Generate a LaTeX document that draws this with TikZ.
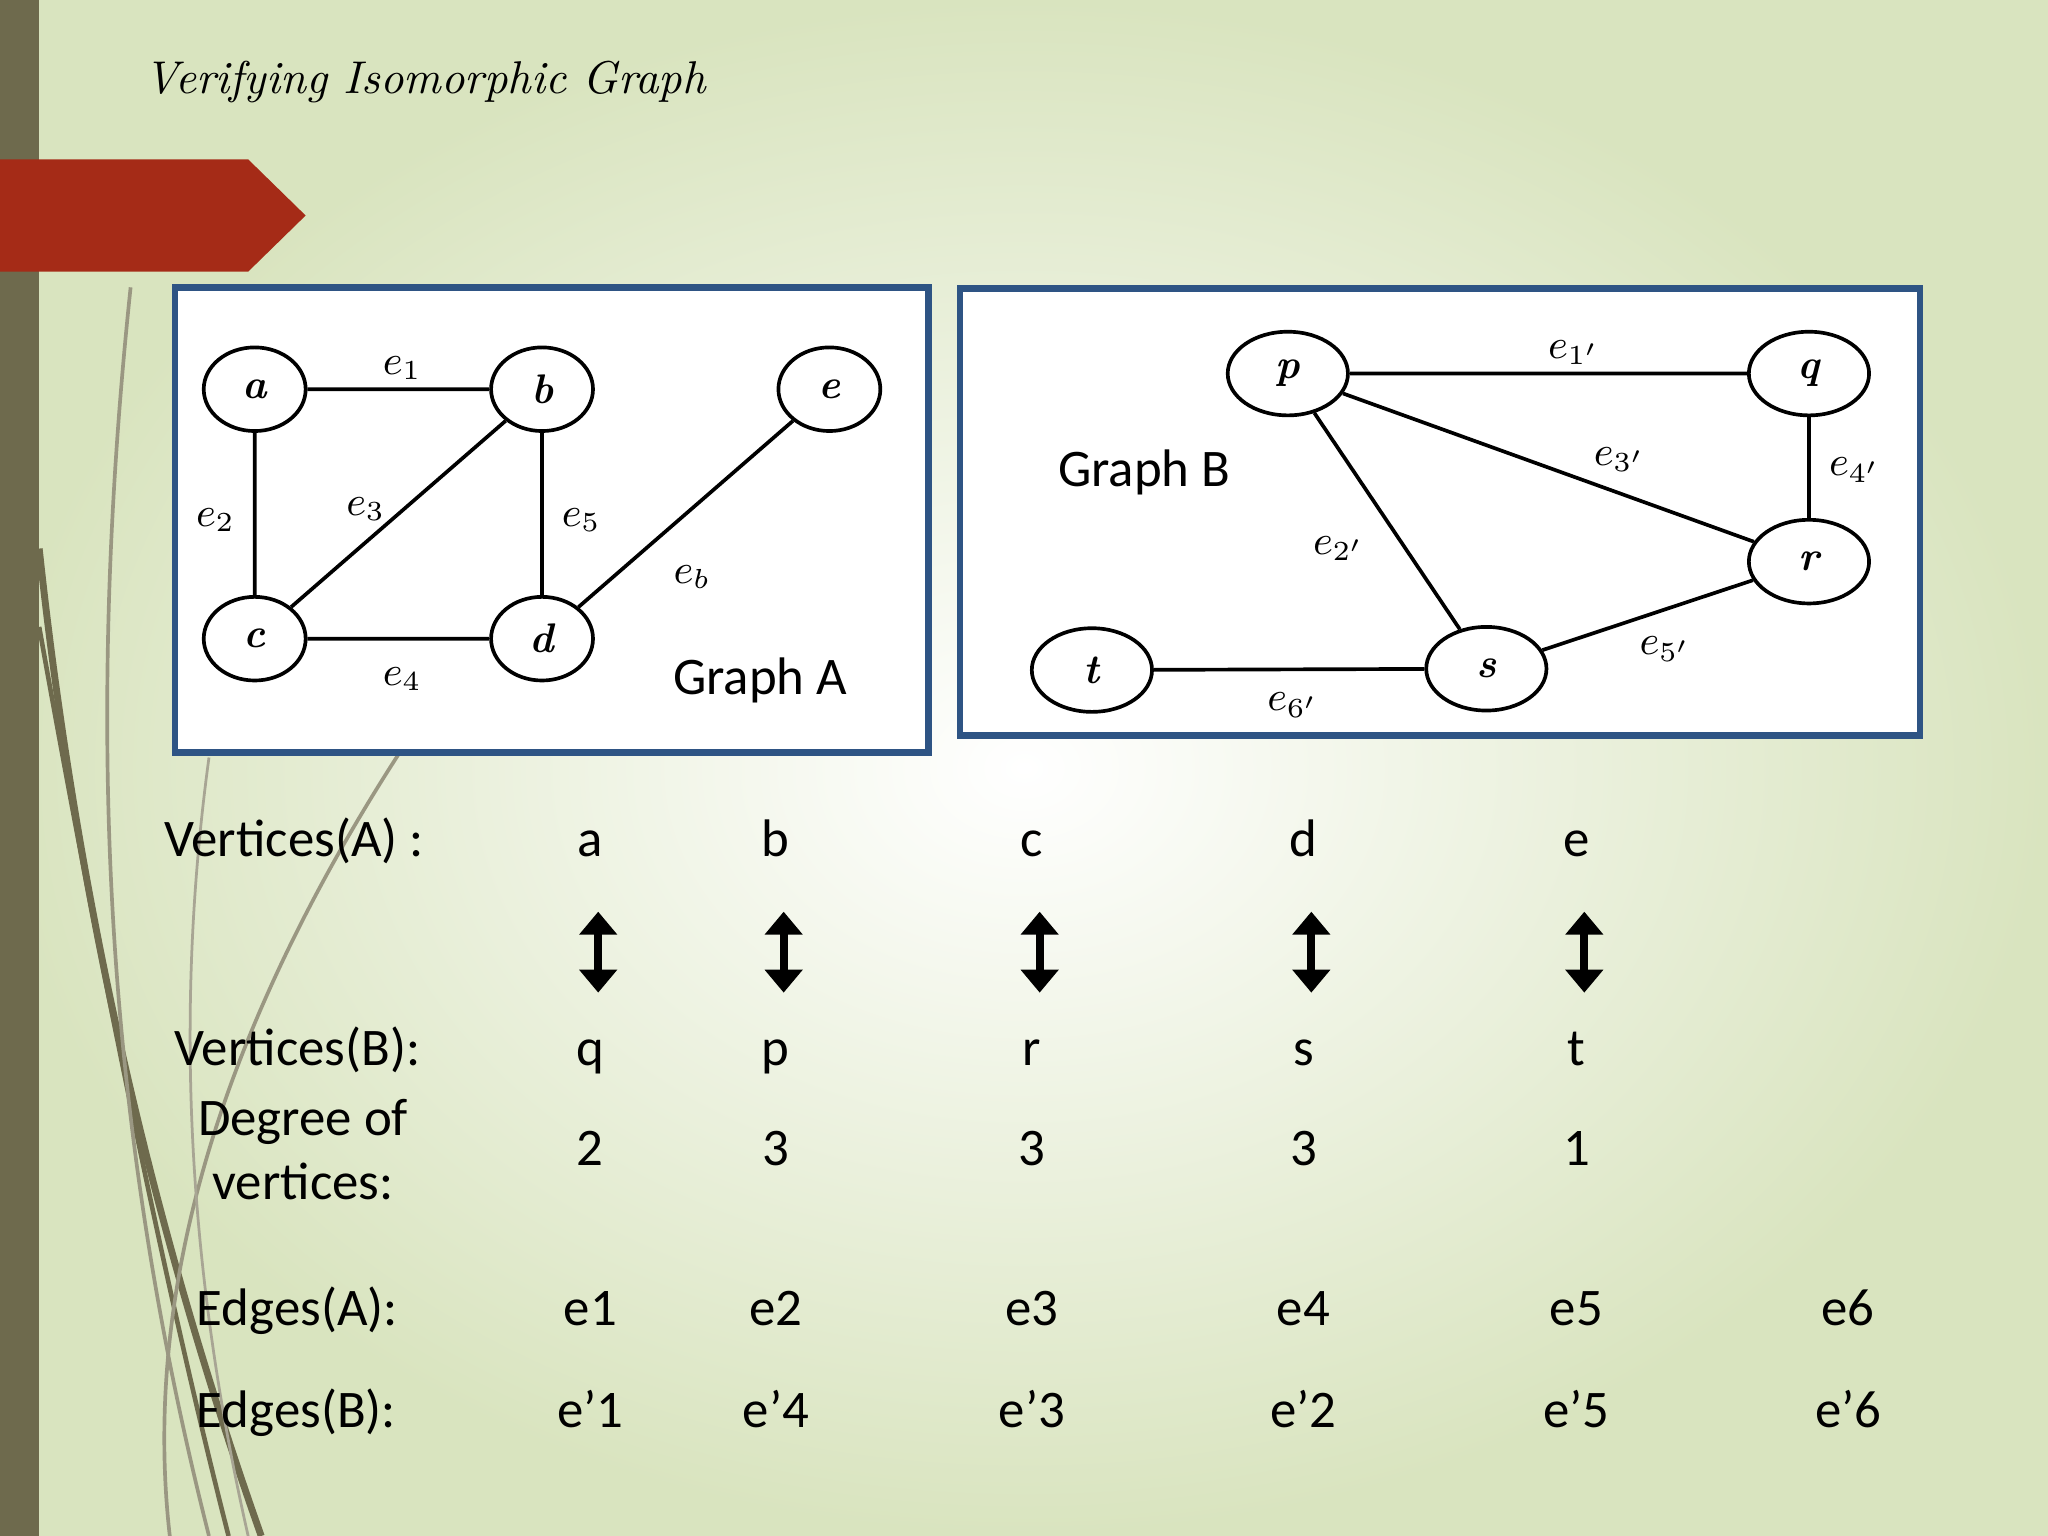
\documentclass[tikz,border=0pt]{standalone}
\usepackage{fontspec}
\setsansfont{Carlito}
\usetikzlibrary{arrows.meta,shapes.geometric}
\definecolor{bgg}{HTML}{D9E4BF}
\definecolor{barc}{HTML}{6E6A4D}
\definecolor{redc}{HTML}{A52B17}
\definecolor{boxc}{HTML}{2E5484}
\begin{document}
\begin{tikzpicture}[x=0.01cm,y=-0.01cm,
 vtx/.style={draw,thick,ellipse,minimum width=0.78cm,minimum height=0.64cm,inner sep=0pt,font=\bfseries\itshape\small,fill=white},
 elab/.style={font=\itshape\bfseries\small},
 tx/.style={font=\sffamily\fontsize{11.5}{14}\selectfont,text height=8pt,text depth=2pt},
 dbl/.style={{Triangle[length=5pt,width=8pt]}-{Triangle[length=5pt,width=8pt]},line width=1.8pt}]
\useasboundingbox (0,0) rectangle (1568,1176);
\shade[inner color=white,outer color=bgg] (0,0) rectangle (1568,1176);
\fill[barc] (0,0) rectangle (30,1176);
\fill[redc] (0,122) -- (190,122) -- (234,165) -- (190,208) -- (0,208) -- cycle;
\node[anchor=west,inner sep=0pt,font=\itshape\fontsize{10}{12}\selectfont] (title) at (110,63) {Verifying Isomorphic Graph};
% decorative curves
\draw[barc,line width=1.5pt] (30,420) .. controls (60,700) and (120,950) .. (200,1176);
\draw[barc,line width=1pt] (30,480) .. controls (80,760) and (130,1000) .. (175,1176);
\draw[barc!70,line width=0.8pt] (100,220) .. controls (60,600) and (90,900) .. (160,1176);
\draw[barc!70,line width=0.8pt] (310,570) .. controls (160,800) and (110,1000) .. (130,1176);
\draw[barc!60,line width=0.6pt] (160,580) .. controls (130,800) and (150,1000) .. (190,1176);
% Graph A
\draw[boxc,line width=1.5pt,fill=white] (134,220) rectangle (711,576);
\node[vtx] (a) at (195,298) {a};
\node[vtx] (b) at (415,298) {b};
\node[vtx] (e) at (635,298) {e};
\node[vtx] (c) at (195,489) {c};
\node[vtx] (d) at (415,489) {d};
\draw[thick] (a)--(b) (a)--(c) (c)--(b) (b)--(d) (c)--(d) (d)--(e);
\node[elab] (ea1) at (308,282) {$e_1$};
\node[elab] (ea2) at (165,398) {$e_2$};
\node[elab] (ea3) at (280,390) {$e_3$};
\node[elab] (ea5) at (445,398) {$e_5$};
\node[elab] (ea6) at (530,442) {$e_b$};
\node[elab] (ea4) at (308,520) {$e_4$};
\node[tx] (ga) at (582,521) {Graph A};
% Graph B
\draw[boxc,line width=1.5pt,fill=white] (735,221) rectangle (1470,563);
\node[vtx,minimum width=0.92cm] (p) at (986,286) {p};
\node[vtx,minimum width=0.92cm] (q) at (1385,286) {q};
\node[vtx,minimum width=0.92cm] (r) at (1385,430) {r};
\node[vtx,minimum width=0.92cm] (s) at (1138,512) {s};
\node[vtx,minimum width=0.92cm] (t) at (836,513) {t};
\draw[thick] (p)--(q) (p)--(r) (p)--(s) (q)--(r) (r)--(s) (t)--(s);
\node[elab] (eb1) at (1205,270) {$e_{1'}$};
\node[elab] (eb3) at (1240,352) {$e_{3'}$};
\node[elab] (eb4) at (1420,360) {$e_{4'}$};
\node[elab] (eb2) at (1025,420) {$e_{2'}$};
\node[elab] (eb5) at (1275,497) {$e_{5'}$};
\node[elab] (eb6) at (990,540) {$e_{6'}$};
\node[tx] (gb) at (876,362) {Graph B};
% table
\node[tx,anchor=west,inner sep=0pt] (la) at (125,645) {Vertices(A) :};
\node[tx,anchor=west,inner sep=0pt] (lb) at (133,805) {Vertices(B):};
\node[tx,align=center] (ld) at (232,908) {Degree of\\vertices:};
\node[tx,anchor=west,inner sep=0pt] (lea) at (150,1004) {Edges(A):};
\node[tx,anchor=west,inner sep=0pt] (leb) at (150,1082) {Edges(B):};
\foreach \x/\va/\vb/\dg/\ea/\eb [count=\i] in {452/a/q/2/e1/e’1,594/b/p/3/e2/e’4,790/c/r/3/e3/e’3,998/d/s/3/e4/e’2,1207/e/t/1/e5/e’5}{
 \node[tx] (va\i) at (\x,645) {\va};
 \node[tx] (vb\i) at (\x,805) {\vb};
 \node[tx] (dg\i) at (\x,882) {\dg};
 \node[tx] (ea\i) at (\x,1004) {\ea};
 \node[tx] (eb\i) at (\x,1082) {\eb};
 \coordinate (t\i) at (\x+6,698); \coordinate (u\i) at (\x+6,760);
 \draw[dbl] (t\i)--(u\i);
}
\node[tx] (ea6) at (1415,1004) {e6};
\node[tx] (eb6) at (1415,1082) {e’6};
\end{tikzpicture}
\end{document}
